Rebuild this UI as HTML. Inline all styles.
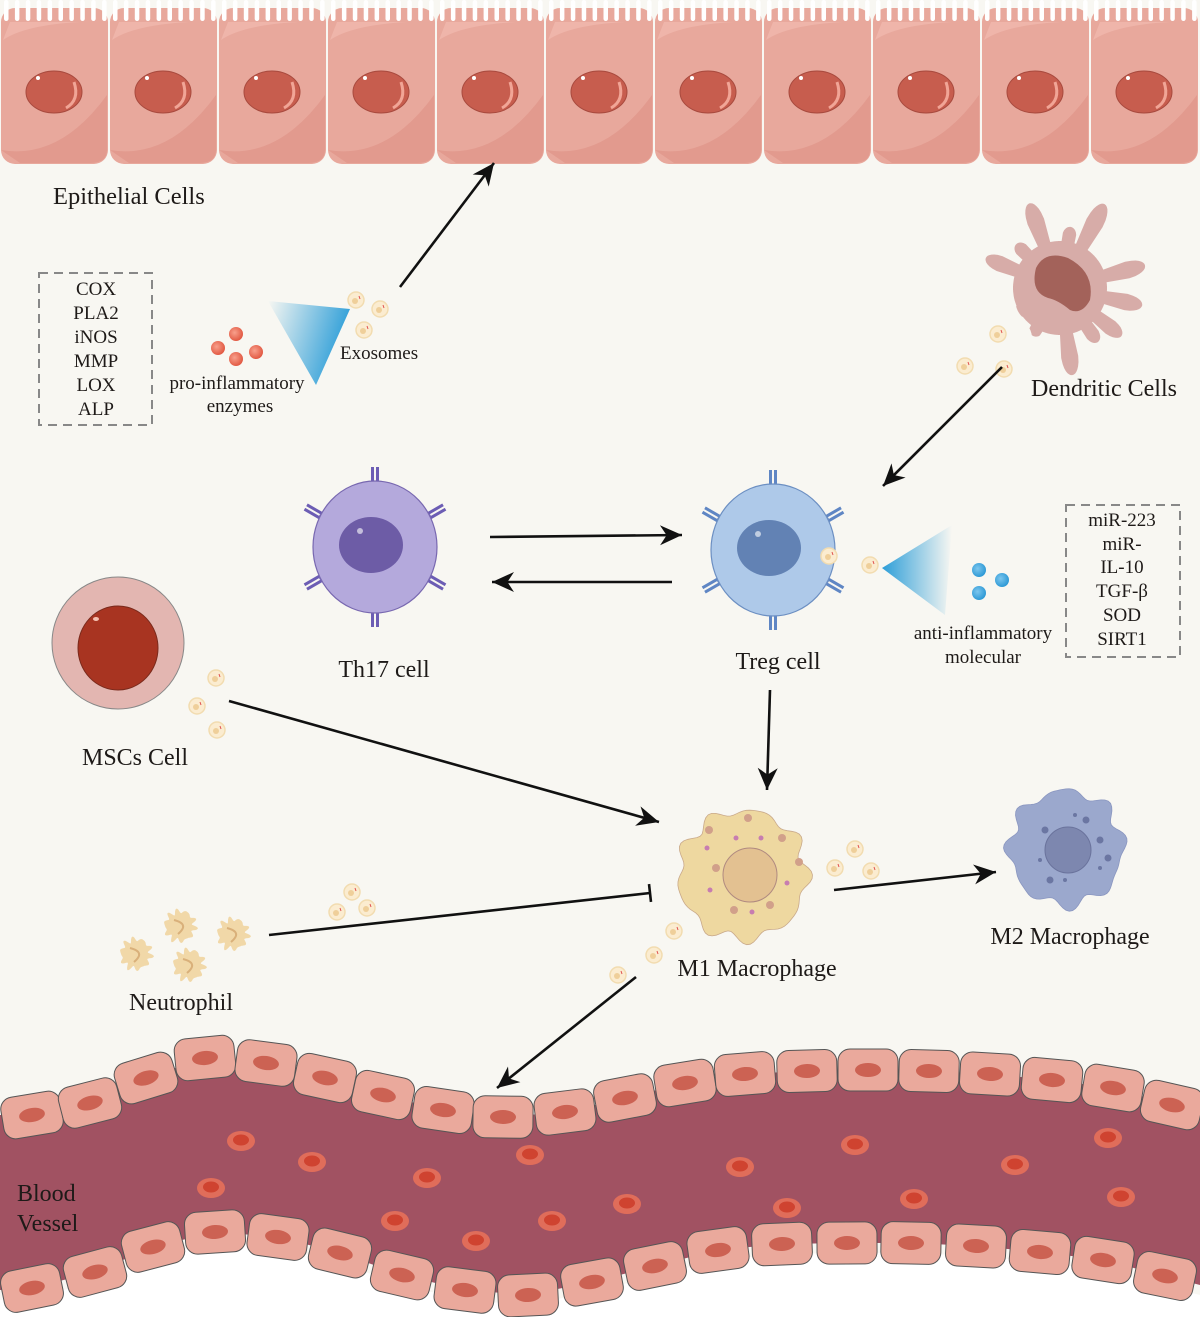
<!DOCTYPE html>
<html><head><meta charset="utf-8">
<style>
html,body{margin:0;padding:0;background:#f8f7f2;}
svg{display:block;}
text{font-family:"Liberation Serif",serif;fill:#1e1a18;}
</style></head>
<body>
<svg id="s" width="1200" height="1317" viewBox="0 0 1200 1317" xmlns="http://www.w3.org/2000/svg">
<defs>
<linearGradient id="g1" x1="0" y1="0" x2="1" y2="0.3"><stop offset="0" stop-color="#2d9ed8" stop-opacity="0"/><stop offset="1" stop-color="#2d9ed8"/></linearGradient>
<linearGradient id="g2" x1="0" y1="0" x2="1" y2="0"><stop offset="0" stop-color="#2d9ed8"/><stop offset="1" stop-color="#2d9ed8" stop-opacity="0"/></linearGradient>
<radialGradient id="rd" cx="0.4" cy="0.4" r="0.6"><stop offset="0" stop-color="#f8a08c"/><stop offset="1" stop-color="#e25a44"/></radialGradient>
<radialGradient id="bd" cx="0.4" cy="0.4" r="0.6"><stop offset="0" stop-color="#7cc6ee"/><stop offset="1" stop-color="#2f9ad6"/></radialGradient>
</defs>
<rect width="1200" height="1317" fill="#f8f7f2"/>
<g id="epi"></g>
<g id="vessel"></g>
<g id="cells"></g>
<g id="exo"></g>
<g id="arrows"></g>

<rect x="39" y="273" width="113" height="152" fill="none" stroke="#888" stroke-width="2" stroke-dasharray="9,6"/>
<rect x="1066" y="505" width="114" height="152" fill="none" stroke="#888" stroke-width="2" stroke-dasharray="9,6"/>

<polygon points="268,301 350,309 316,385" fill="url(#g1)"/>
<polygon points="882,568 952,525 945,615" fill="url(#g2)"/>
<circle cx="236" cy="334" r="7" fill="url(#rd)"/><circle cx="218" cy="348" r="7" fill="url(#rd)"/><circle cx="256" cy="352" r="7" fill="url(#rd)"/><circle cx="236" cy="359" r="7" fill="url(#rd)"/>
<circle cx="979" cy="570" r="7" fill="url(#bd)"/><circle cx="1002" cy="580" r="7" fill="url(#bd)"/><circle cx="979" cy="593" r="7" fill="url(#bd)"/>

<text x="53" y="204" font-size="24.5">Epithelial Cells</text>
<g font-size="19" text-anchor="middle">
<text x="96" y="295">COX</text><text x="96" y="319">PLA2</text><text x="96" y="343">iNOS</text><text x="96" y="367">MMP</text><text x="96" y="391">LOX</text><text x="96" y="415">ALP</text>
<text x="1122" y="526">miR-223</text><text x="1122" y="550">miR-</text><text x="1122" y="573">IL-10</text><text x="1122" y="597">TGF-β</text><text x="1122" y="621">SOD</text><text x="1122" y="645">SIRT1</text>
<text x="237" y="389">pro-inflammatory</text><text x="240" y="412">enzymes</text>
<text x="983" y="639">anti-inflammatory</text><text x="983" y="663">molecular</text>
</g>
<text x="340" y="359" font-size="19">Exosomes</text>
<g font-size="24" text-anchor="middle">
<text x="1104" y="396">Dendritic Cells</text>
<text x="384" y="677">Th17 cell</text>
<text x="778" y="669">Treg cell</text>
<text x="135" y="765">MSCs Cell</text>
<text x="757" y="976">M1 Macrophage</text>
<text x="1070" y="944">M2 Macrophage</text>
<text x="181" y="1010">Neutrophil</text>
<text x="17" y="1201" text-anchor="start">Blood</text>
<text x="17" y="1231" text-anchor="start">Vessel</text>
</g>
</svg>
<script>
(function(){
var NS="http://www.w3.org/2000/svg";
function el(p,t,a){var e=document.createElementNS(NS,t);for(var k in a)e.setAttribute(k,a[k]);p.appendChild(e);return e;}
var epi=document.getElementById('epi');
for(var i=0;i<11;i++){var x=i*109;
 el(epi,'rect',{x:x+1,y:8,width:107,height:156,rx:14,fill:'#e8a89c'});
 el(epi,'path',{d:'M'+(x+1)+',150 Q'+(x+60)+',160 '+(x+107)+',95 L'+(x+107)+',150 Q'+(x+107)+',163 '+(x+90)+',163 L'+(x+20)+',163 Z',fill:'#e29a8e'});
 el(epi,'path',{d:'M'+(x+3)+',40 Q'+(x+25)+',25 '+(x+80)+',22 L'+(x+10)+',22 Z',fill:'#efb5aa'});
 el(epi,'ellipse',{cx:x+54,cy:92,rx:28,ry:21,fill:'#c75d4e',stroke:'#a84a3e','stroke-width':1});
 el(epi,'path',{d:'M'+(x+74)+',82 Q'+(x+80)+',100 '+(x+66)+',108',stroke:'#f1a596','stroke-width':3,fill:'none'});
 el(epi,'circle',{cx:x+38,cy:78,r:2,fill:'#fff'});
}
for(var x=2;x<1200;x+=10.9){el(epi,'rect',{x:x+2,y:0,width:4.5,height:21,rx:2.2,fill:'#fff'});}
var V=document.getElementById('vessel');
var topRow=[[32,1115],[90,1103],[146,1078],[205,1058],[266,1063],[325,1078],[383,1095],[443,1110],[503,1117],[565,1112],[625,1098],[685,1083],[745,1074],[807,1071],[868,1070],[929,1071],[990,1074],[1052,1080],[1113,1088],[1172,1105]];
var botRow=[[32,1288],[95,1272],[153,1247],[215,1232],[278,1237],[340,1253],[402,1275],[465,1290],[528,1295],[592,1282],[655,1266],[718,1250],[782,1244],[847,1243],[911,1243],[976,1246],[1040,1252],[1103,1260],[1165,1276]];
var d='M0,1300';botRow.forEach(function(p){d+=' L'+p[0]+','+(p[1]+10);});d+=' L1200,1295 L1200,1317 L0,1317 Z';
el(V,'path',{d:d,fill:'#ffffff'});
d='M0,1115';topRow.forEach(function(p){d+=' L'+p[0]+','+p[1];});d+=' L1200,1115 L1200,1285';
for(var i=botRow.length-1;i>=0;i--)d+=' L'+botRow[i][0]+','+botRow[i][1];d+=' L0,1290 Z';
el(V,'path',{d:d,fill:'#a15262'});
var rbc=[[241,1141],[312,1162],[427,1178],[530,1155],[211,1188],[395,1221],[552,1221],[476,1241],[627,1204],[740,1167],[787,1208],[855,1145],[914,1199],[1015,1165],[1108,1138],[1121,1197]];
rbc.forEach(function(p){el(V,'ellipse',{cx:p[0],cy:p[1],rx:14,ry:10,fill:'#e06d5a'});el(V,'ellipse',{cx:p[0],cy:p[1]-1,rx:8,ry:5.5,fill:'#cf4330'});});
function cellrow(arr){for(var i=0;i<arr.length;i++){var p=arr[i],a=arr[Math.max(0,i-1)],b=arr[Math.min(arr.length-1,i+1)];
 var ang=Math.atan2(b[1]-a[1],b[0]-a[0])*180/Math.PI*0.8;
 var g=el(V,'g',{transform:'translate('+p[0]+','+p[1]+') rotate('+ang+')'});
 el(g,'rect',{x:-30,y:-21,width:60,height:42,rx:12,fill:'#eaa99c',stroke:'#555','stroke-width':1});
 el(g,'ellipse',{cx:0,cy:0,rx:13,ry:7,fill:'#cc6253'});}}
cellrow(topRow);cellrow(botRow);
var E=document.getElementById('exo');
function exo(x,y){el(E,'circle',{cx:x,cy:y,r:8,fill:'#fbecd0',stroke:'#f2dcb0','stroke-width':1.5});el(E,'circle',{cx:x-1,cy:y+1,r:3,fill:'#efcf9a'});el(E,'line',{x1:x+3,y1:y-4,x2:x+4,y2:y-1,stroke:'#e05050','stroke-width':1});}
[[356,300],[380,309],[364,330],[998,334],[965,366],[1004,369],[829,556],[870,565],[216,678],[197,706],[217,730],[352,892],[337,912],[367,908],[855,849],[835,868],[871,871],[674,931],[654,955],[618,975]].forEach(function(p){exo(p[0],p[1]);});
var C=document.getElementById('cells');
(function(){var cx=1060,cy=288,R=47;var spikes=[[-158,80],[-135,62],[-110,90],[-80,62],[-62,95],[-15,88],[12,84],[38,78],[55,66],[82,88],[120,55],[150,48]];
 var d='';var N=360;for(var k=0;k<=N;k++){var t=k/N*360;var r=R;spikes.forEach(function(s){var dd=Math.abs(((t-s[0]+540)%360)-180);var w=8;if(dd<w)r=Math.max(r,R+(s[1]-R)*Math.pow(Math.cos(dd/w*Math.PI/2),0.35));});
 var x=cx+r*Math.cos(t*Math.PI/180),y=cy+r*Math.sin(t*Math.PI/180);d+=(k?'L':'M')+x.toFixed(1)+','+y.toFixed(1);}
 el(C,'path',{d:d+'Z',fill:'#d7aca8'});
 el(C,'circle',{cx:1012,cy:338,r:20,fill:'#f8f7f2'});
 el(C,'path',{d:'M1036,268 Q1045,250 1068,258 Q1095,272 1090,300 Q1082,315 1070,310 Q1058,300 1048,298 Q1030,292 1036,268Z',fill:'#a3625a'});})();
function tcell(cx,cy,body,stroke,nuc,rec){
 var angs=[-90,-30,30,90,150,210];
 angs.forEach(function(a){var g=el(C,'g',{transform:'translate('+cx+','+cy+') rotate('+(a+90)+')'});
  el(g,'rect',{x:-4,y:-80,width:3,height:18,fill:rec});el(g,'rect',{x:1,y:-80,width:3,height:18,fill:rec});el(g,'rect',{x:-1,y:-64,width:2,height:6,fill:rec});});
 el(C,'ellipse',{cx:cx,cy:cy,rx:62,ry:66,fill:body,stroke:stroke,'stroke-width':1.2});
 el(C,'ellipse',{cx:cx-4,cy:cy-2,rx:32,ry:28,fill:nuc});
 el(C,'circle',{cx:cx-15,cy:cy-16,r:3,fill:'#fff',opacity:0.6});}
tcell(375,547,'#b4a9dc','#7868b0','#6d5ca6','#6c5db4');
tcell(773,550,'#aec9e9','#6c8fc2','#6282b4','#5f86c4');
el(C,'circle',{cx:118,cy:643,r:66,fill:'#e3b6b1',stroke:'#888','stroke-width':1});
el(C,'ellipse',{cx:118,cy:648,rx:40,ry:42,fill:'#a83421',stroke:'#7a2a1c','stroke-width':1});
el(C,'ellipse',{cx:96,cy:619,rx:3,ry:2,fill:'#f5c0b0'});
function blob(cx,cy,r,amp,n,fill,seed){var d='';for(var k=0;k<=120;k++){var t=k/120*Math.PI*2;var rr=r+amp*Math.sin(n*t+seed)+amp*0.6*Math.sin((n+3)*t+seed*2);d+=(k?'L':'M')+(cx+rr*Math.cos(t)).toFixed(1)+','+(cy+rr*Math.sin(t)).toFixed(1);}return el(C,'path',{d:d+'Z',fill:fill,stroke:'#c9a98a','stroke-width':0.8});}
blob(743,875,64,4,9,'#eed8a0',1);
[[709,830],[736,838],[748,818],[761,838],[716,868],[710,890],[799,862],[787,883],[734,910],[752,912],[770,905],[707,848],[782,838]].forEach(function(p,i){el(C,'circle',{cx:p[0],cy:p[1],r:i%2?2.5:4,fill:i%2?'#c77db0':'#d1a08a'});});
el(C,'circle',{cx:750,cy:875,r:27,fill:'#e3c191',stroke:'#b08a80','stroke-width':1});
var m2=blob(1066,848,57,4,8,'#9ba8cd',2);m2.setAttribute('stroke','#8a96c0');
[[1045,830],[1040,860],[1050,880],[1065,880],[1100,840],[1100,868],[1086,820],[1075,815],[1108,858]].forEach(function(p,i){el(C,'circle',{cx:p[0],cy:p[1],r:i%2?2:3.5,fill:'#6b76a2'});});
el(C,'circle',{cx:1068,cy:850,r:23,fill:'#7d87af',stroke:'#6a739c','stroke-width':1});
[[180,926],[233,934],[136,954],[189,965]].forEach(function(p){blob(p[0],p[1],15,2,10,'#f1d8a8',0).setAttribute('stroke','none');
 el(C,'path',{d:'M'+(p[0]-6)+','+(p[1]-6)+' Q'+(p[0]+10)+','+(p[1]-2)+' '+(p[0]-2)+','+(p[1]+8),stroke:'#d9b07a','stroke-width':2,fill:'none'});});
var A=document.getElementById('arrows');
function arr(x1,y1,x2,y2,tbar){var g=el(A,'g',{});el(g,'line',{x1:x1,y1:y1,x2:x2,y2:y2,stroke:'#111','stroke-width':2.6});
 var a=Math.atan2(y2-y1,x2-x1);
 if(tbar){var px=-Math.sin(a)*9,py=Math.cos(a)*9;el(g,'line',{x1:x2+px,y1:y2+py,x2:x2-px,y2:y2-py,stroke:'#111','stroke-width':2.6});return;}
 var L=22,W=10;function P(l,w){return (x2-l*Math.cos(a)-w*Math.sin(a)).toFixed(1)+','+(y2-l*Math.sin(a)+w*Math.cos(a)).toFixed(1);}
 el(g,'polygon',{points:x2+','+y2+' '+P(L,W)+' '+P(L*0.7,0)+' '+P(L,-W),fill:'#111'});}
arr(400,287,494,163);
arr(1002,367,883,486);
arr(490,537,682,535);
arr(672,582,492,582);
arr(770,690,767,790);
arr(229,701,659,822);
arr(269,935,650,893,true);
arr(834,890,996,872);
arr(636,977,497,1088);
})();
</script>
</body></html>
